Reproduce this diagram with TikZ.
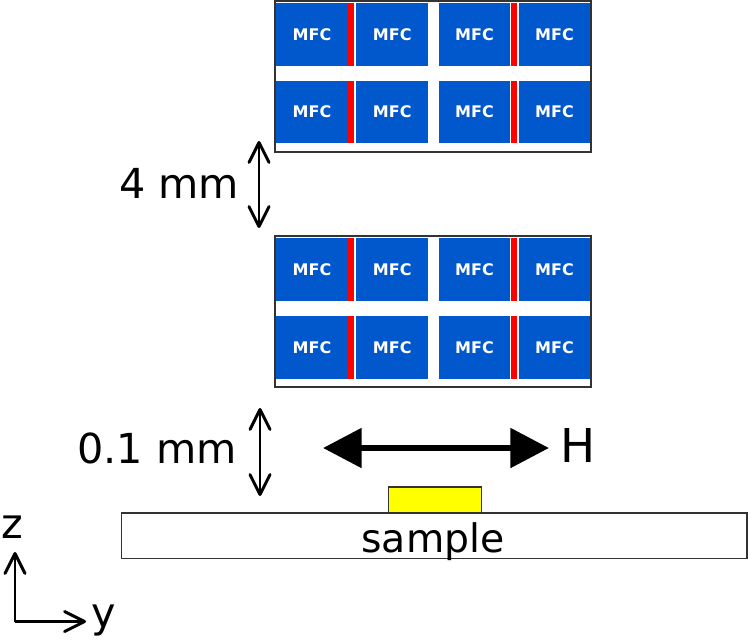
\documentclass[tikz,border=0pt]{standalone}
\usepackage{fontspec}
\setmainfont{DejaVu Sans}
\usetikzlibrary{arrows.meta}
\definecolor{mfcblue}{RGB}{0,88,204}
\definecolor{chipyellow}{RGB}{255,255,0}
\definecolor{barred}{RGB}{255,0,0}
\tikzset{
  frame/.style={draw=black!80, line width=1.3pt, fill=white, minimum width=237pt, minimum height=113.5pt, inner sep=0pt},
  mfc/.style={fill=mfcblue, text=white, font=\fontsize{12}{12}\selectfont\bfseries, minimum width=53.6pt, minimum height=47pt, inner sep=0pt},
  redbar/.style={fill=barred, minimum width=4.6pt, minimum height=47pt, inner sep=0pt},
  label/.style={font=\fontsize{31}{31}\selectfont, inner sep=0pt, anchor=base},
  barb/.tip={Straight Barb[length=15pt,width=15pt,line width=2.2pt,round]},
  gap/.style={barb-barb, line width=2.2pt},
  axis/.style={-barb, line width=2.2pt},
  field/.style={{Triangle[length=29pt,width=29pt]}-{Triangle[length=29pt,width=29pt]}, line width=4.8pt}
}
\begin{document}
\begin{tikzpicture}[x=0.75pt,y=-0.75pt]
  \useasboundingbox (0,0) rectangle (748,643);
  % duas placas de MFC
  \node[frame] (top) at (433.3,76.5) {};
  \node[frame] (bottom) at (433.3,311.5) {};
  \foreach \rowname/\rowy in {a/34.5,b/112,c/269.5,d/347.5} {
    \foreach \colname/\colx in {1/312,2/392.2,3/474.5,4/554.5}
      \node[mfc] (mfc\rowname\colname) at (\colx,\rowy) {MFC};
    \node[redbar] (bar\rowname L) at (351,\rowy) {};
    \node[redbar] (bar\rowname R) at (513.8,\rowy) {};
  }
  % amostra
  \node[draw=black!80, line width=1.2pt, fill=chipyellow, minimum width=70pt, minimum height=19.5pt, inner sep=0pt] (chip) at (435,500) {};
  \node[draw=black!80, line width=1.2pt, fill=white, minimum width=469pt, minimum height=34pt, inner sep=0pt] (sample) at (434.3,535.7) {};
  \node[label, font=\fontsize{29.5}{30}\selectfont] (sampletext) at (433,552) {sample};
  % setas
  \coordinate (gapAtop) at (259,141);
  \coordinate (gapAbot) at (259,228);
  \coordinate (gapBtop) at (260,408);
  \coordinate (gapBbot) at (260,496);
  \coordinate (fieldL) at (323,448);
  \coordinate (fieldR) at (549,448);
  \coordinate (origin) at (15,621.5);
  \node[label] (gapAtext) at (179,198.5) {4 mm};
  \node[label] (gapBtext) at (157,463.5) {0.1 mm};
  \node[label, font=\fontsize{35}{35}\selectfont] (fieldtext) at (578,462) {H};
  \node[label] (ztext) at (12,538) {z};
  \node[label] (ytext) at (104,627) {y};
  \coordinate (zend) at (15,552);
  \coordinate (yend) at (86,621.5);
  \draw[gap] (gapAtop) -- (gapAbot);
  \draw[gap] (gapBtop) -- (gapBbot);
  \draw[field] (fieldL) -- (fieldR);
  \draw[axis] (origin) -- (zend);
  \draw[axis] (origin) -- (yend);
\end{tikzpicture}
\end{document}
